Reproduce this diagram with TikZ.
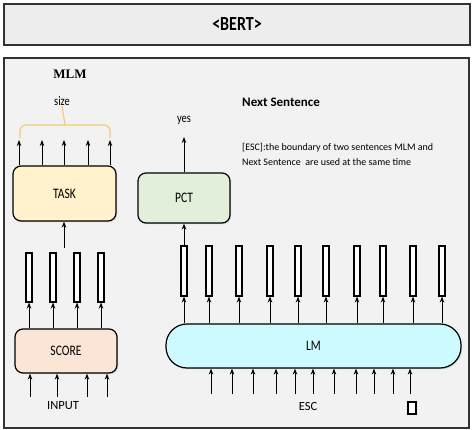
\documentclass[tikz,border=0pt]{standalone}
\usepackage{fontspec}
\setmainfont{Carlito}
\newfontfamily\titleserif{Liberation Serif}
\newfontfamily\condfont[FakeStretch=0.8]{Carlito}
\usetikzlibrary{arrows.meta,shadows}
\definecolor{panelfill}{HTML}{F2F2F2}
\definecolor{titlefill}{HTML}{EDEDED}
\definecolor{taskfill}{HTML}{FFF2CC}
\definecolor{pctfill}{HTML}{E2EFDA}
\definecolor{scorefill}{HTML}{FBE5D6}
\definecolor{lmfill}{HTML}{CCFAFF}
\definecolor{bracecol}{HTML}{F5CD70}
\tikzset{
  panel/.style={draw=black!80, line width=1.4pt},
  box/.style={draw=black, line width=1.2pt, rounded corners=8pt, inner sep=0pt,
    drop shadow={opacity=0.25, shadow xshift=1.2pt, shadow yshift=-1.2pt},
    font=\condfont\fontsize{14.5}{16}\selectfont},
  bar/.style={draw=black, line width=1.1pt, fill=white, minimum width=6pt, inner sep=0pt},
  arr/.style={-{Stealth[length=6pt,width=4.5pt]}, line width=0.9pt},
  lbl/.style={inner sep=0pt, font=\fontsize{12.5}{14}\selectfont}
}
\begin{document}
\begin{tikzpicture}[x=1pt,y=-1pt]
\useasboundingbox (0,0) rectangle (474,430);
\fill[white] (0,0) rectangle (474,430);
% panels
\draw[panel, fill=titlefill] (4,4) rectangle (470,45);
\node[inner sep=0pt, font=\condfont\fontsize{20}{22}\selectfont\bfseries] (title) at (237,24) {<BERT>};
\draw[panel, fill=panelfill] (4,58) rectangle (469,428);

% MLM side
\node[inner sep=0pt, font=\titleserif\fontsize{13}{15}\selectfont\bfseries] (mlm) at (70,74) {MLM};
\node[lbl, font=\condfont\fontsize{13}{14}\selectfont] (size) at (62,101) {size};
\node[box, fill=taskfill, minimum width=103pt, minimum height=55pt] (task) at (64.5,193.5) {TASK};
\node[box, fill=scorefill, minimum width=102pt, minimum height=44pt] (score) at (66,351) {SCORE};

\foreach \i/\x in {1/19,2/42,3/64,4/88,5/110}{
  \coordinate (tt\i) at (\x,140);
  \draw[arr] (task.north -| tt\i) -- (tt\i);
}
\draw[bracecol, line width=1.2pt] (20,138) -- (20,131) to[out=90,in=180] (26,125) -- (104,125) to[out=0,in=90] (110,131) -- (110,138);
\draw[bracecol, line width=1.2pt] (65,125) -- (size.south);

\coordinate (taskin) at (64,248);
\draw[arr] (taskin) -- (task.south -| taskin);

\foreach \i/\x in {1/29,2/53,3/77,4/101}{
  \node[bar, minimum height=49pt] (lb\i) at (\x,277.5) {};
  \draw[arr] (score.north -| lb\i) -- (lb\i.south);
}
\foreach \i/\x in {1/30,2/57,3/87,4/107}{
  \coordinate (si\i) at (\x,397);
  \draw[arr] (si\i) -- (score.south -| si\i);
}
\node[lbl] (input) at (63,406) {INPUT};

% Next sentence side
\node[box, fill=pctfill, minimum width=92pt, minimum height=50pt] (pct) at (184,198) {PCT};
\coordinate (yesend) at (184,137);
\draw[arr] (pct.north) -- (yesend);
\node[lbl, font=\condfont\fontsize{13}{14}\selectfont] (yes) at (184,120) {yes};

\node[anchor=west, inner sep=0pt, font=\fontsize{13}{15}\selectfont\bfseries] (ns) at (242,102) {Next Sentence};
\node[anchor=north west, inner sep=0pt, align=left, font=\fontsize{10}{15}\selectfont] (desc) at (242,143)
  {[ESC]:the boundary of two sentences MLM and\\Next Sentence\ \ are used at the same time};

\node[box, fill=lmfill, rounded corners=21pt, minimum width=295pt, minimum height=44pt] (lm) at (313.5,346) {LM};

\foreach \i/\x in {1/184,2/209,3/239,4/270,5/298,6/326,7/357,8/383,9/413,10/442}{
  \node[bar, minimum height=50pt] (rb\i) at (\x,271) {};
  \draw[arr] (lm.north -| rb\i) -- (rb\i.south);
}
\draw[arr] (rb1.north) -- (pct.south);

\foreach \i/\x in {1/211,2/232,3/253,4/276,5/295,6/313,7/334,8/356,9/374,10/393,11/410}{
  \coordinate (li\i) at (\x,394);
  \draw[arr] (li\i) -- (lm.south -| li\i);
}
\node[lbl] (esc) at (308,406) {ESC};
\node[draw=black, line width=1.1pt, fill=white, minimum width=8pt, minimum height=12pt, inner sep=0pt] (sq) at (412,408) {};
\end{tikzpicture}
\end{document}
